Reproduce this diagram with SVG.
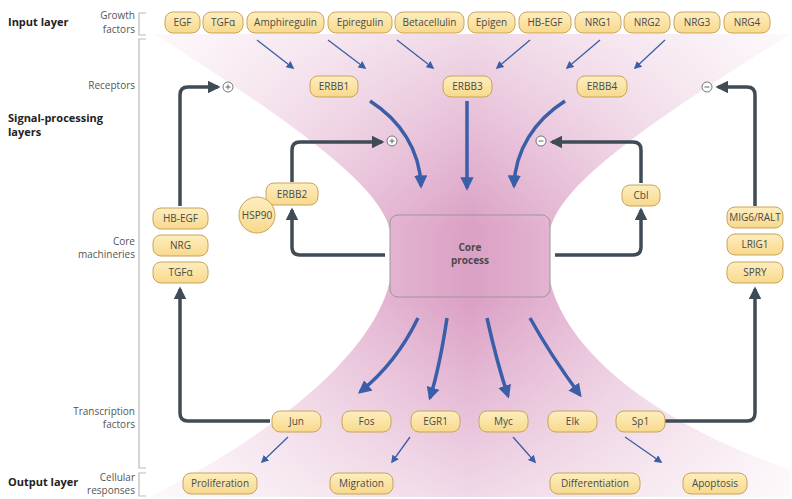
<svg xmlns="http://www.w3.org/2000/svg" width="792" height="499" viewBox="0 0 792 499">
<style>
text{font-family:"Open Sans","Liberation Sans",sans-serif;font-size:10px;fill:#4a4a4a}
.b rect{fill:url(#bx);stroke:#c9a45a;stroke-width:1}
.b text{text-anchor:middle}
.lab{text-anchor:end;fill:#555}
.hd{font-weight:bold;font-size:11px;fill:#222}
.dk{fill:none;stroke:#3f4b55;stroke-width:3.5;stroke-linejoin:round}
.bl{fill:none;stroke:#3b5ea8;stroke-width:3.5}
.th{fill:none;stroke:#3b5ea8;stroke-width:1.3}
.br{fill:none;stroke:#bbb;stroke-width:1.2}
</style>
<defs>
<linearGradient id="bx" x1="0" y1="0" x2="0" y2="1"><stop offset="0" stop-color="#fdeebf"/><stop offset="1" stop-color="#f8d98c"/></linearGradient>
<linearGradient id="pk" x1="0" y1="0" x2="1" y2="0"><stop offset="0" stop-color="#faf0f5"/><stop offset="0.5" stop-color="#dba0c5"/><stop offset="1" stop-color="#faf0f5"/></linearGradient>
<linearGradient id="pkv" x1="0" y1="0" x2="0" y2="1"><stop offset="0" stop-color="#fff" stop-opacity="0.6"/><stop offset="0.42" stop-color="#fff" stop-opacity="0"/><stop offset="0.58" stop-color="#fff" stop-opacity="0"/><stop offset="1" stop-color="#fff" stop-opacity="0.6"/></linearGradient>
<marker id="ad" viewBox="0 0 10 10" refX="8" refY="5" markerWidth="3.6" markerHeight="3.6" orient="auto"><path d="M0,0L10,5L0,10z" fill="#3f4b55"/></marker>
<marker id="ab" viewBox="0 0 10 10" refX="8" refY="5" markerWidth="6" markerHeight="6" orient="auto"><path d="M0,0L10,5L0,10z" fill="#3b5ea8"/></marker>
<marker id="at" viewBox="0 0 10 10" refX="8" refY="5" markerWidth="3.8" markerHeight="3.8" orient="auto"><path d="M0,0L10,5L0,10z" fill="#3b5ea8"/></marker>
</defs>
<path id="funnel" d="M155,34 L790,34 C620,140 560,190 550,230 L550,280 C560,330 620,410 790,470 L790,497 L150,497 C320,410 380,330 390,280 L390,230 C380,190 320,140 155,34 Z" fill="url(#pk)"/>
<path d="M155,34 L790,34 C620,140 560,190 550,230 L550,280 C560,330 620,410 790,470 L790,497 L150,497 C320,410 380,330 390,280 L390,230 C380,190 320,140 155,34 Z" fill="url(#pkv)"/>
<g id="labels">
<text class="hd" x="8" y="26">Input layer</text>
<text class="hd" x="8" y="122">Signal-processing</text>
<text class="hd" x="8" y="136">layers</text>
<text class="hd" x="8" y="486">Output layer</text>
<text class="lab" x="135" y="19">Growth</text><text class="lab" x="135" y="33">factors</text>
<text class="lab" x="135" y="89">Receptors</text>
<text class="lab" x="135" y="245">Core</text><text class="lab" x="135" y="258">machineries</text>
<text class="lab" x="135" y="415">Transcription</text><text class="lab" x="135" y="428">factors</text>
<text class="lab" x="135" y="481">Cellular</text><text class="lab" x="135" y="494">responses</text>
<path class="br" d="M146,13H139V35H146M146,39H139V468H146M146,473H139V496H146"/>
</g>
<g id="connectors">
<g class="th" marker-end="url(#ab)">
<path d="M257,40L293,68"/><path d="M328,40L365,68"/><path d="M397,40L433,68"/><path d="M530,40L497,68"/><path d="M600,40L567,68"/><path d="M665,40L635,68"/>
<path d="M288,437L262,462"/><path d="M410,437L392,462"/><path d="M513,437L535,462"/><path d="M625,437L661,462"/>
</g>
<path class="bl" d="M370,101C400,120 420,150 421,186" marker-end="url(#at)"/>
<path class="bl" d="M467,101L467,188" marker-end="url(#at)"/>
<path class="bl" d="M565,101C535,120 515,150 514,186" marker-end="url(#at)"/>
<path class="bl" d="M418,318C405,345 385,372 360,392" marker-end="url(#at)"/>
<path class="bl" d="M447,318C443,345 438,372 430,398" marker-end="url(#at)"/>
<path class="bl" d="M487,318C493,345 500,372 508,396" marker-end="url(#at)"/>
<path class="bl" d="M530,318C545,345 563,372 580,395" marker-end="url(#at)"/>
<path class="dk" d="M180,206V95Q180,87 188,87H218" marker-end="url(#ad)"/>
<path class="dk" d="M292,182V150Q292,142 300,142H382" marker-end="url(#ad)"/>
<path class="dk" d="M385,255H300Q292,255 292,247V210" marker-end="url(#ad)"/>
<path class="dk" d="M270,421H188Q180,421 180,413V289" marker-end="url(#ad)"/>
<path class="dk" d="M555,255H633Q641,255 641,247V210" marker-end="url(#ad)"/>
<path class="dk" d="M641,183V150Q641,142 633,142H552" marker-end="url(#ad)"/>
<path class="dk" d="M755,206V95Q755,87 747,87H718" marker-end="url(#ad)"/>
<path class="dk" d="M665,421H747Q755,421 755,413V289" marker-end="url(#ad)"/>
<g fill="#fff" stroke="#555" stroke-width="0.8"><circle cx="228" cy="87" r="5"/><circle cx="392" cy="141" r="5"/><circle cx="541" cy="141" r="5"/><circle cx="707" cy="87" r="5"/></g>
<path d="M225.5,87h5M228,84.5v5M389.5,141h5M392,138.5v5M538.5,141h5M704.5,87h5" stroke="#555" stroke-width="0.9"/>
</g>
<g id="core"><rect x="390" y="215" width="160" height="82" rx="8" fill="none" stroke="#999" stroke-width="1"/>
<text x="470" y="251" text-anchor="middle" font-weight="bold" fill="#333">Core</text><text x="470" y="264" text-anchor="middle" font-weight="bold" fill="#333">process</text></g>
<g class="b">
<g id="egf"><rect x="165" y="12" width="35" height="21" rx="8"/><text x="182.5" y="26">EGF</text></g>
<g id="tgfa"><rect x="203" y="12" width="40" height="21" rx="8"/><text x="223" y="26">TGFα</text></g>
<g id="areg"><rect x="247" y="12" width="77" height="21" rx="8"/><text x="285.5" y="26">Amphiregulin</text></g>
<g id="ereg"><rect x="328" y="12" width="64" height="21" rx="8"/><text x="360" y="26">Epiregulin</text></g>
<g id="btc"><rect x="395" y="12" width="69" height="21" rx="8"/><text x="429.5" y="26">Betacellulin</text></g>
<g id="epgn"><rect x="468" y="12" width="47" height="21" rx="8"/><text x="491.5" y="26">Epigen</text></g>
<g id="hbegf"><rect x="519" y="12" width="52" height="21" rx="8"/><text x="545" y="26">HB-EGF</text></g>
<g id="nrg1"><rect x="575" y="12" width="46" height="21" rx="8"/><text x="598" y="26">NRG1</text></g>
<g id="nrg2"><rect x="624" y="12" width="46" height="21" rx="8"/><text x="647" y="26">NRG2</text></g>
<g id="nrg3"><rect x="674" y="12" width="46" height="21" rx="8"/><text x="697" y="26">NRG3</text></g>
<g id="nrg4"><rect x="724" y="12" width="46" height="21" rx="8"/><text x="747" y="26">NRG4</text></g>
<g id="erbb1"><rect x="310" y="76" width="48" height="21" rx="8"/><text x="334" y="90">ERBB1</text></g>
<g id="erbb3"><rect x="443" y="76" width="49" height="21" rx="8"/><text x="467.5" y="90">ERBB3</text></g>
<g id="erbb4"><rect x="577" y="76" width="50" height="21" rx="8"/><text x="602" y="90">ERBB4</text></g>
<g id="erbb2"><rect x="266" y="183" width="52" height="22" rx="8"/><text x="292" y="198">ERBB2</text></g>
<g id="hsp90"><circle cx="257" cy="215" r="18" fill="url(#bx)" stroke="#c9a45a"/><text x="257" y="219">HSP90</text></g>
<g id="cbl"><rect x="622" y="185" width="38" height="21" rx="8"/><text x="641" y="199">Cbl</text></g>
<g id="lhbegf"><rect x="153" y="208" width="55" height="21" rx="8"/><text x="180.5" y="222">HB-EGF</text></g>
<g id="lnrg"><rect x="153" y="235" width="55" height="21" rx="8"/><text x="180.5" y="249">NRG</text></g>
<g id="ltgfa"><rect x="153" y="262" width="55" height="21" rx="8"/><text x="180.5" y="276">TGFα</text></g>
<g id="mig6"><rect x="727" y="207" width="56" height="21" rx="8"/><text x="755" y="221">MIG6/RALT</text></g>
<g id="lrig1"><rect x="727" y="234" width="56" height="21" rx="8"/><text x="755" y="248">LRIG1</text></g>
<g id="spry"><rect x="727" y="262" width="56" height="21" rx="8"/><text x="755" y="276">SPRY</text></g>
<g id="jun"><rect x="272" y="411" width="49" height="21" rx="8"/><text x="296.5" y="425">Jun</text></g>
<g id="fos"><rect x="342" y="411" width="49" height="21" rx="8"/><text x="366.5" y="425">Fos</text></g>
<g id="egr1"><rect x="411" y="411" width="49" height="21" rx="8"/><text x="435.5" y="425">EGR1</text></g>
<g id="myc"><rect x="479" y="411" width="49" height="21" rx="8"/><text x="503.5" y="425">Myc</text></g>
<g id="elk"><rect x="548" y="411" width="49" height="21" rx="8"/><text x="572.5" y="425">Elk</text></g>
<g id="sp1"><rect x="616" y="411" width="49" height="21" rx="8"/><text x="640.5" y="425">Sp1</text></g>
<g id="prolif"><rect x="183" y="473" width="74" height="21" rx="8"/><text x="220" y="487">Proliferation</text></g>
<g id="migr"><rect x="330" y="473" width="63" height="21" rx="8"/><text x="361.5" y="487">Migration</text></g>
<g id="diff"><rect x="550" y="473" width="90" height="21" rx="8"/><text x="595" y="487">Differentiation</text></g>
<g id="apop"><rect x="683" y="473" width="64" height="21" rx="8"/><text x="715" y="487">Apoptosis</text></g>
</g>
</svg>
